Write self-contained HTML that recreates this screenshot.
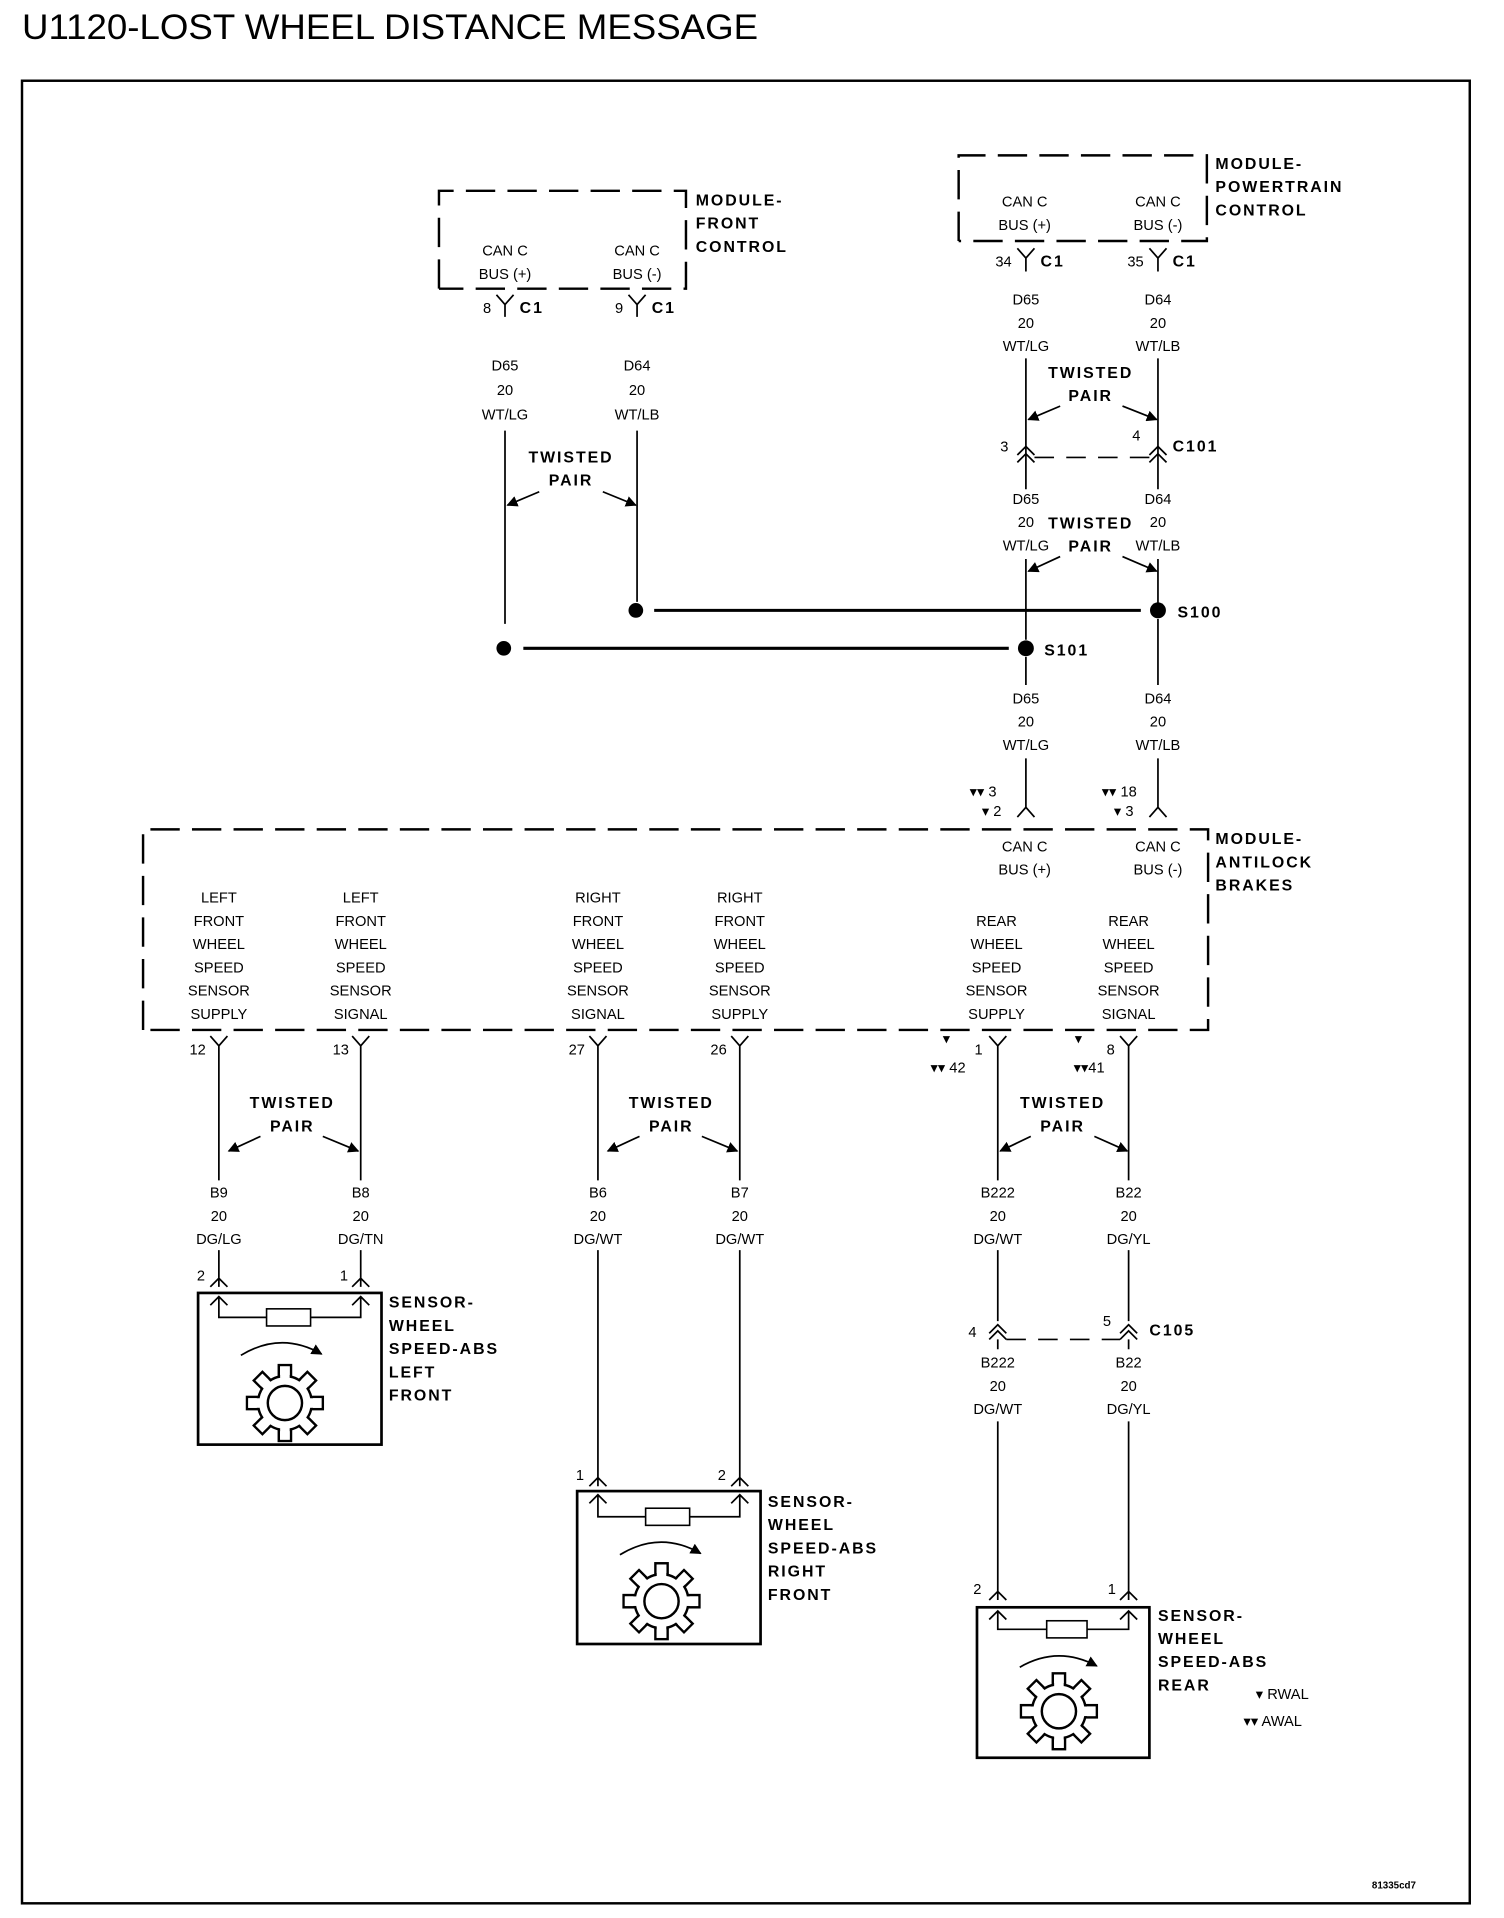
<!DOCTYPE html>
<html><head><meta charset="utf-8"><style>
html,body{margin:0;padding:0;background:#fff;}
svg{display:block}
.t{font-family:"Liberation Sans",sans-serif;font-size:12px;text-anchor:middle;fill:#000;}
.s{font-family:"Liberation Sans",sans-serif;font-size:12px;fill:#000;}
.b{font-family:"Liberation Sans",sans-serif;font-size:13px;font-weight:bold;letter-spacing:1.6px;fill:#000;}
.bc{font-family:"Liberation Sans",sans-serif;font-size:13px;font-weight:bold;letter-spacing:1.6px;fill:#000;text-anchor:middle;}
.w{stroke:#000;stroke-width:1.4;fill:none;}
.d{stroke:#000;stroke-width:2;fill:none;stroke-dasharray:24,10;}
.dl{stroke:#000;stroke-width:1.3;fill:none;stroke-dasharray:16,10;}
.k{stroke:#000;stroke-width:2.5;fill:none;}
</style></head><body>
<svg width="1504" height="1918" viewBox="0 0 1230 1568" preserveAspectRatio="none" xmlns="http://www.w3.org/2000/svg">
<defs>
<marker id="ar" viewBox="0 0 10 10" refX="9" refY="5" markerWidth="9" markerHeight="9" orient="auto" markerUnits="userSpaceOnUse"><path d="M0,0 L10,5 L0,10 z" fill="#000"/></marker>
<g id="tooth"><rect x="-5" y="-31" width="10" height="9" stroke="#000" stroke-width="2" fill="#fff"/><rect x="-3.9" y="-30" width="7.8" height="9.5" fill="#fff"/></g>
<g id="gear">
<circle r="22" fill="#fff" stroke="#000" stroke-width="2"/>
<use href="#tooth"/>
<use href="#tooth" transform="rotate(45)"/>
<use href="#tooth" transform="rotate(90)"/>
<use href="#tooth" transform="rotate(135)"/>
<use href="#tooth" transform="rotate(180)"/>
<use href="#tooth" transform="rotate(225)"/>
<use href="#tooth" transform="rotate(270)"/>
<use href="#tooth" transform="rotate(315)"/>
<circle r="14" fill="none" stroke="#000" stroke-width="2"/>
</g>
</defs>

<text x="18" y="32" style="font-family:'Liberation Sans',sans-serif;font-size:29px" textLength="602" lengthAdjust="spacingAndGlyphs">U1120-LOST WHEEL DISTANCE MESSAGE</text>
<rect x="18" y="66" width="1184" height="1490" fill="none" stroke="#000" stroke-width="2"/>

<!-- FRONT CONTROL -->
<path class="d" d="M359,236 V156 H561 V236 H359"/>
<text class="b" x="569" y="168">MODULE-</text><text class="b" x="569" y="187">FRONT</text><text class="b" x="569" y="206">CONTROL</text>
<text class="t" x="413" y="209">CAN C</text><text class="t" x="413" y="228">BUS (+)</text>
<text class="t" x="521" y="209">CAN C</text><text class="t" x="521" y="228">BUS (-)</text>
<path class="w" d="M406,241 L413,249 L420,241 M413,249 V259 M514,241 L521,249 L528,241 M521,249 V259"/>
<text class="s" x="395" y="256">8</text><text class="b" x="425" y="256">C1</text>
<text class="s" x="503" y="256">9</text><text class="b" x="533" y="256">C1</text>
<text class="t" x="413" y="303">D65</text><text class="t" x="413" y="323">20</text><text class="t" x="413" y="343">WT/LG</text>
<text class="t" x="521" y="303">D64</text><text class="t" x="521" y="323">20</text><text class="t" x="521" y="343">WT/LB</text>
<path class="w" d="M413,352 V510 M521,352 V492"/>
<text class="bc" x="467" y="378">TWISTED</text><text class="bc" x="467" y="397">PAIR</text>
<path class="w" marker-end="url(#ar)" d="M441,402 L415,413"/>
<path class="w" marker-end="url(#ar)" d="M493,402 L520,413"/>
<circle cx="520" cy="499" r="6"/>
<circle cx="412" cy="530" r="6"/>
<path class="k" d="M535,499 H933 M428,530 H825"/>
<circle cx="947" cy="499" r="6.5"/><text class="b" x="963" y="505">S100</text>
<circle cx="839" cy="530" r="6.5"/><text class="b" x="854" y="536">S101</text>

<!-- PCM -->
<path class="d" d="M784,197 V127 H987 V197 H784"/>
<text class="b" x="994" y="138">MODULE-</text><text class="b" x="994" y="157">POWERTRAIN</text><text class="b" x="994" y="176">CONTROL</text>
<text class="t" x="838" y="169">CAN C</text><text class="t" x="838" y="188">BUS (+)</text>
<text class="t" x="947" y="169">CAN C</text><text class="t" x="947" y="188">BUS (-)</text>
<path class="w" d="M832,203 L839,211 L846,203 M839,211 V222 M940,203 L947,211 L954,203 M947,211 V222"/>
<text class="s" x="814" y="218">34</text><text class="b" x="851" y="218">C1</text>
<text class="s" x="922" y="218">35</text><text class="b" x="959" y="218">C1</text>
<text class="t" x="839" y="249">D65</text><text class="t" x="839" y="268">20</text><text class="t" x="839" y="287">WT/LG</text>
<text class="t" x="947" y="249">D64</text><text class="t" x="947" y="268">20</text><text class="t" x="947" y="287">WT/LB</text>
<path class="w" d="M839,293 V400 M947,293 V400"/>
<text class="bc" x="892" y="309">TWISTED</text><text class="bc" x="892" y="328">PAIR</text>
<path class="w" marker-end="url(#ar)" d="M867,332 L841,343"/>
<path class="w" marker-end="url(#ar)" d="M918,332 L946,343"/>
<path class="w" d="M832,372 L839,365 L846,372 M832,378 L839,371 L846,378 M940,372 L947,365 L954,372 M940,378 L947,371 L954,378"/>
<path class="dl" d="M846,374 H940"/>
<text class="s" x="818" y="369">3</text><text class="s" x="926" y="360">4</text><text class="b" x="959" y="369">C101</text>
<text class="t" x="839" y="412">D65</text><text class="t" x="839" y="431">20</text><text class="t" x="839" y="450">WT/LG</text>
<text class="t" x="947" y="412">D64</text><text class="t" x="947" y="431">20</text><text class="t" x="947" y="450">WT/LB</text>
<text class="bc" x="892" y="432">TWISTED</text><text class="bc" x="892" y="451">PAIR</text>
<path class="w" marker-end="url(#ar)" d="M867,455 L841,467"/>
<path class="w" marker-end="url(#ar)" d="M918,455 L946,467"/>
<path class="w" d="M839,457 V523 M839,537 V560 M947,457 V493 M947,506 V560"/>
<text class="t" x="839" y="575">D65</text><text class="t" x="839" y="594">20</text><text class="t" x="839" y="613">WT/LG</text>
<text class="t" x="947" y="575">D64</text><text class="t" x="947" y="594">20</text><text class="t" x="947" y="613">WT/LB</text>
<path class="w" d="M839,620 V660 M832,668 L839,660 L846,668 M947,620 V660 M940,668 L947,660 L954,668"/>
<text class="s" x="793" y="651">▾▾ 3</text><text class="s" x="803" y="667">▾ 2</text>
<text class="s" x="901" y="651">▾▾ 18</text><text class="s" x="911" y="667">▾ 3</text>

<!-- ABS -->
<path class="d" d="M117,842 V678 H988 V842 H117"/>
<text class="b" x="994" y="690">MODULE-</text><text class="b" x="994" y="709">ANTILOCK</text><text class="b" x="994" y="728">BRAKES</text>
<text class="t" x="838" y="696">CAN C</text><text class="t" x="838" y="715">BUS (+)</text>
<text class="t" x="947" y="696">CAN C</text><text class="t" x="947" y="715">BUS (-)</text>
<g class="t">
<text x="179" y="738">LEFT</text><text x="179" y="757">FRONT</text><text x="179" y="776">WHEEL</text><text x="179" y="795">SPEED</text><text x="179" y="814">SENSOR</text><text x="179" y="833">SUPPLY</text>
<text x="295" y="738">LEFT</text><text x="295" y="757">FRONT</text><text x="295" y="776">WHEEL</text><text x="295" y="795">SPEED</text><text x="295" y="814">SENSOR</text><text x="295" y="833">SIGNAL</text>
<text x="489" y="738">RIGHT</text><text x="489" y="757">FRONT</text><text x="489" y="776">WHEEL</text><text x="489" y="795">SPEED</text><text x="489" y="814">SENSOR</text><text x="489" y="833">SIGNAL</text>
<text x="605" y="738">RIGHT</text><text x="605" y="757">FRONT</text><text x="605" y="776">WHEEL</text><text x="605" y="795">SPEED</text><text x="605" y="814">SENSOR</text><text x="605" y="833">SUPPLY</text>
<text x="815" y="757">REAR</text><text x="815" y="776">WHEEL</text><text x="815" y="795">SPEED</text><text x="815" y="814">SENSOR</text><text x="815" y="833">SUPPLY</text>
<text x="923" y="757">REAR</text><text x="923" y="776">WHEEL</text><text x="923" y="795">SPEED</text><text x="923" y="814">SENSOR</text><text x="923" y="833">SIGNAL</text>
</g>
<path class="w" d="M172,847 L179,855 L186,847 M179,855 V965 M288,847 L295,855 L302,847 M295,855 V965 M482,847 L489,855 L496,847 M489,855 V965 M598,847 L605,855 L612,847 M605,855 V965 M809,847 L816,855 L823,847 M816,855 V965 M916,847 L923,855 L930,847 M923,855 V965"/>
<text class="s" x="155" y="862">12</text><text class="s" x="272" y="862">13</text><text class="s" x="465" y="862">27</text><text class="s" x="581" y="862">26</text>
<text class="s" x="771" y="853">▾</text><text class="s" x="797" y="862">1</text><text class="s" x="761" y="877">▾▾ 42</text>
<text class="s" x="879" y="853">▾</text><text class="s" x="905" y="862">8</text><text class="s" x="878" y="877">▾▾41</text>
<text class="bc" x="239" y="906">TWISTED</text><text class="bc" x="239" y="925">PAIR</text>
<path class="w" marker-end="url(#ar)" d="M213,929 L187,941"/><path class="w" marker-end="url(#ar)" d="M264,929 L293,941"/>
<text class="bc" x="549" y="906">TWISTED</text><text class="bc" x="549" y="925">PAIR</text>
<path class="w" marker-end="url(#ar)" d="M523,929 L497,941"/><path class="w" marker-end="url(#ar)" d="M574,929 L603,941"/>
<text class="bc" x="869" y="906">TWISTED</text><text class="bc" x="869" y="925">PAIR</text>
<path class="w" marker-end="url(#ar)" d="M843,929 L818,941"/><path class="w" marker-end="url(#ar)" d="M895,929 L922,941"/>
<g class="t">
<text x="179" y="979">B9</text><text x="179" y="998">20</text><text x="179" y="1017">DG/LG</text>
<text x="295" y="979">B8</text><text x="295" y="998">20</text><text x="295" y="1017">DG/TN</text>
<text x="489" y="979">B6</text><text x="489" y="998">20</text><text x="489" y="1017">DG/WT</text>
<text x="605" y="979">B7</text><text x="605" y="998">20</text><text x="605" y="1017">DG/WT</text>
<text x="816" y="979">B222</text><text x="816" y="998">20</text><text x="816" y="1017">DG/WT</text>
<text x="923" y="979">B22</text><text x="923" y="998">20</text><text x="923" y="1017">DG/YL</text>
</g>

<!-- LF sensor -->
<path class="w" d="M179,1022 V1052 M172,1052 L179,1045 L186,1052 M295,1022 V1052 M288,1052 L295,1045 L302,1052"/>
<text class="s" x="161" y="1047">2</text><text class="s" x="278" y="1047">1</text>
<rect x="162" y="1057" width="150" height="124" fill="none" stroke="#000" stroke-width="2.2"/>
<path class="w" d="M172,1067 L179,1060 L186,1067 M288,1067 L295,1060 L302,1067 M179,1060 V1077 H218 M254,1077 H295 V1060"/>
<rect x="218" y="1070" width="36" height="14" fill="none" stroke="#000" stroke-width="1.3"/>
<path class="w" marker-end="url(#ar)" stroke-width="1.6" d="M197,1108 Q230,1088 263,1107"/>
<use href="#gear" x="233" y="1147"/>

<!-- RF sensor -->
<path class="w" d="M489,1022 V1215 M482,1215 L489,1208 L496,1215 M605,1022 V1215 M598,1215 L605,1208 L612,1215"/>
<text class="s" x="471" y="1210">1</text><text class="s" x="587" y="1210">2</text>
<rect x="472" y="1219" width="150" height="125" fill="none" stroke="#000" stroke-width="2.2"/>
<path class="w" d="M482,1229 L489,1222 L496,1229 M598,1229 L605,1222 L612,1229 M489,1222 V1240 H528 M564,1240 H605 V1222"/>
<rect x="528" y="1233" width="36" height="14" fill="none" stroke="#000" stroke-width="1.3"/>
<path class="w" marker-end="url(#ar)" stroke-width="1.6" d="M507,1271 Q540,1251 573,1270"/>
<use href="#gear" x="541" y="1309"/>

<!-- Rear -->
<path class="w" d="M816,1022 V1080 M923,1022 V1080"/>
<path class="w" d="M809,1090 L816,1083 L823,1090 M809,1095 L816,1088 L823,1095 M916,1090 L923,1083 L930,1090 M916,1095 L923,1088 L930,1095 M816,1095 V1103 M923,1095 V1103"/>
<path class="dl" d="M823,1095 H916"/>
<text class="s" x="792" y="1093">4</text><text class="s" x="902" y="1084">5</text><text class="b" x="940" y="1092">C105</text>
<g class="t">
<text x="816" y="1118">B222</text><text x="816" y="1137">20</text><text x="816" y="1156">DG/WT</text>
<text x="923" y="1118">B22</text><text x="923" y="1137">20</text><text x="923" y="1156">DG/YL</text>
</g>
<path class="w" d="M816,1162 V1308 M809,1308 L816,1301 L823,1308 M923,1162 V1308 M916,1308 L923,1301 L930,1308"/>
<text class="s" x="796" y="1303">2</text><text class="s" x="906" y="1303">1</text>
<rect x="799" y="1314" width="141" height="123" fill="none" stroke="#000" stroke-width="2.2"/>
<path class="w" d="M809,1324 L816,1317 L823,1324 M916,1324 L923,1317 L930,1324 M816,1317 V1332 H856 M889,1332 H923 V1317"/>
<rect x="856" y="1325" width="33" height="14" fill="none" stroke="#000" stroke-width="1.3"/>
<path class="w" marker-end="url(#ar)" stroke-width="1.6" d="M834,1363 Q865,1345 897,1362"/>
<use href="#gear" x="866" y="1399"/>

<g class="b">
<text x="318" y="1069">SENSOR-</text><text x="318" y="1088">WHEEL</text><text x="318" y="1107">SPEED-ABS</text><text x="318" y="1126">LEFT</text><text x="318" y="1145">FRONT</text>
<text x="628" y="1232">SENSOR-</text><text x="628" y="1251">WHEEL</text><text x="628" y="1270">SPEED-ABS</text><text x="628" y="1289">RIGHT</text><text x="628" y="1308">FRONT</text>
<text x="947" y="1325">SENSOR-</text><text x="947" y="1344">WHEEL</text><text x="947" y="1363">SPEED-ABS</text><text x="947" y="1382">REAR</text>
</g>
<text class="s" x="1027" y="1389">▾ RWAL</text>
<text class="s" x="1017" y="1411">▾▾ AWAL</text>
<text x="1122" y="1544" style="font-family:'Liberation Sans',sans-serif;font-size:8px;font-weight:bold">81335cd7</text>
</svg>
</body></html>
